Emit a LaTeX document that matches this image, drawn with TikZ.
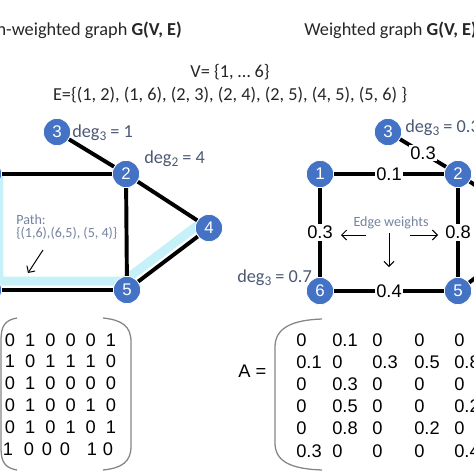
\documentclass[tikz,border=0pt]{standalone}
\usepackage{fontspec}
\setmainfont{Carlito}
\newfontfamily\numfont{Liberation Sans}
\definecolor{vblue}{HTML}{4472C4}
\definecolor{degc}{HTML}{4A5874}
\definecolor{notec}{HTML}{7583A0}
\definecolor{hilite}{HTML}{C6F1F8}
\definecolor{brkc}{HTML}{858585}
\definecolor{ttlc}{HTML}{262626}
\usetikzlibrary{arrows.meta,calc,backgrounds}
\newcommand{\lowidx}[1]{\raisebox{-0.35ex}{\fontsize{9.5}{9.5}\selectfont #1}}

\begin{document}
\begin{tikzpicture}[x=0.025cm, y=-0.025cm,
  vert/.style={circle, fill=vblue, draw=white, line width=0.5pt, minimum size=0.68cm, inner sep=0pt, text=white, font={\numfont\fontsize{12}{12}\selectfont}},
  edge/.style={line width=2.8pt},
  pathband/.style={hilite, line width=6.4pt},
  wlab/.style={fill=white, inner sep=1.2pt, font={\numfont\fontsize{13}{13}\selectfont}},
  txt/.style={inner sep=0pt, font=\fontsize{13}{15}\selectfont},
  deglab/.style={txt, text=degc, anchor=base west},
  note/.style={inner sep=0pt, text=notec, font=\fontsize{10}{12}\selectfont},
  entry/.style={inner sep=0pt, anchor=base, font={\numfont\fontsize{13}{13}\selectfont}},
  thinarrow/.style={-{Straight Barb[length=3.5pt,width=7pt]}, line width=0.7pt},
  bracket/.style={brkc, line width=0.9pt},
]
\useasboundingbox (0,0) rectangle (474,474);
\clip (0,0) rectangle (474,474);

% headings
\node[txt, text=ttlc, anchor=base east] (ttlA) at (182,35) {Non-weighted graph \textbf{G(V, E)}};
\node[txt, text=ttlc, anchor=base west] (ttlB) at (304,35) {Weighted graph \textbf{G(V, E)}};
\node[txt, text=ttlc, anchor=base] (vset) at (230,77) {V= \{1, … 6\}};
\node[txt, text=ttlc, anchor=base] (eset) at (230,100) {E=\{(1, 2), (1, 6), (2, 3), (2, 4), (2, 5), (4, 5), (5, 6) \}};

% non-weighted graph
\node[vert] (a1) at (-12,174) {1};
\node[vert] (a2) at (126,174) {2};
\node[vert] (a3) at (57,132) {3};
\node[vert] (a4) at (209,228) {4};
\node[vert] (a5) at (127,290) {5};
\node[vert] (a6) at (-12,290) {6};
\begin{pgfonlayer}{background}
\clip (0,0) rectangle (474,474);
\draw[pathband] ($(a1.center)+(11,2)$) -- ($(a6.center)+(11,-9)$) -- ($(a5.center)+(-3,-9)$) -- ($(a4.center)+(-5.4,-7.2)$);
\draw[edge] (a1) -- (a2) (a1) -- (a6) (a2) -- (a3) (a2) -- (a4) (a2) -- (a5) (a4) -- (a5) (a5) -- (a6);
\end{pgfonlayer}
\node[deglab] (dega3) at (72,137) {deg\lowidx{3} = 1};
\node[deglab] (dega2) at (144,163) {deg\lowidx{2} = 4};
\node[note, anchor=base west] (ptxt1) at (16,224) {Path:};
\node[note, anchor=base west] (ptxt2) at (16,237) {\{(1,6),(6,5), (5, 4)\}};
\coordinate (pa0) at (43,250);
\coordinate (pa1) at (28,273);
\draw[thinarrow] (pa0) -- (pa1);

% weighted graph
\node[vert] (b1) at (320,174) {1};
\node[vert] (b2) at (458,174) {2};
\node[vert] (b3) at (388,132) {3};
\node[vert] (b4) at (541,228) {4};
\node[vert] (b5) at (458,291) {5};
\node[vert] (b6) at (320,291) {6};
\begin{pgfonlayer}{background}
\clip (0,0) rectangle (474,474);
\draw[edge] (b2) -- (b4) (b4) -- (b5);
\draw[edge] (b1) -- node[wlab] (w12) {0.1} (b2);
\draw[edge] (b3) -- node[wlab] (w23) {0.3} (b2);
\draw[edge] (b1) -- node[wlab] (w16) {0.3} (b6);
\draw[edge] (b2) -- node[wlab] (w25) {0.8} (b5);
\draw[edge] (b6) -- node[wlab] (w56) {0.4} (b5);
\end{pgfonlayer}
\node[deglab] (degb3) at (405,132) {deg\lowidx{3} = 0.3};
\node[deglab] (degb6) at (237,282) {deg\lowidx{3} = 0.7};
\node[note, anchor=base] (ewt) at (391,226) {Edge weights};
\coordinate (wl0) at (366,235);
\coordinate (wl1) at (341,235);
\coordinate (wr0) at (410,235);
\coordinate (wr1) at (438,235);
\coordinate (wd0) at (389,233);
\coordinate (wd1) at (389,267);
\draw[thinarrow] (wl0) -- (wl1);
\draw[thinarrow] (wr0) -- (wr1);
\draw[thinarrow] (wd0) -- (wd1);

% adjacency matrices
\draw[bracket] (17,318) .. controls (5,320) and (1,326) .. (1,340) -- (1,448) .. controls (1,462) and (5,468) .. (17,470);
\draw[bracket] (103,318) .. controls (122,320) and (131,326) .. (131,342) -- (131,446) .. controls (131,462) and (122,468) .. (103,470);
\foreach \row [count=\r] in {{0,1,0,0,0,1},{1,0,1,1,1,0},{0,1,0,0,0,0},{0,1,0,0,1,0},{0,1,0,1,0,1}}
  \foreach \v [count=\c] in \row
    \node[entry] (mA-\r-\c) at ({10+20.2*(\c-1)},{346+21.8*(\r-1)}) {\v};
\foreach \v/\xx [count=\c] in {1/8,0/29,0/47,0/65,1/92,0/108}
  \node[entry] (mA-6-\c) at (\xx,455) {\v};

\node[entry, anchor=base west] (alab) at (238,377) {A =};
\draw[bracket] (322,319) .. controls (292,320) and (275,328) .. (275,347) -- (275,443) .. controls (275,462) and (292,469) .. (322,470);
\foreach \row [count=\r] in {{0,0.1,0,0,0},{0.1,0,0.3,0.5,0.8},{0,0.3,0,0,0},{0,0.5,0,0,0.2},{0,0.8,0,0.2,0},{0.3,0,0,0,0.4}}
  \foreach \v [count=\c] in \row {
    \pgfmathsetmacro\xx{{296,332,372,414,454}[\c-1]}
    \node[entry, anchor=base west] (mB-\r-\c) at ({\xx},{346+22.2*(\r-1)}) {\v};
  }
\end{tikzpicture}
\end{document}
